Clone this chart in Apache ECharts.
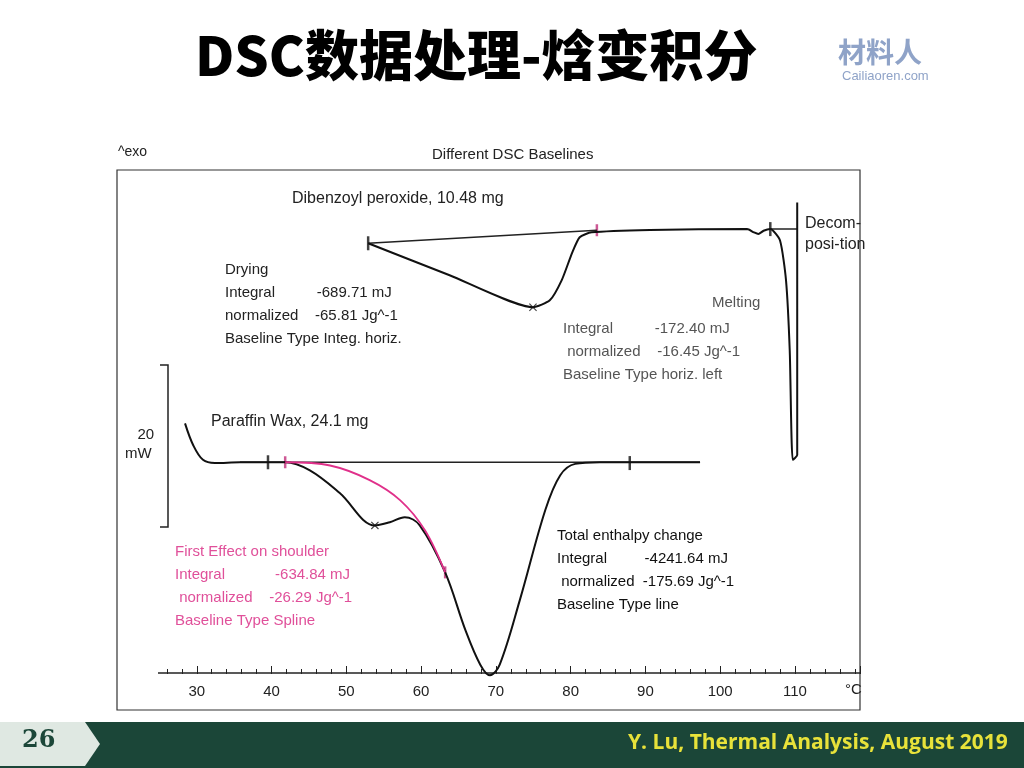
<!DOCTYPE html>
<html><head><meta charset="utf-8">
<script src="https://cdn.jsdelivr.net/npm/echarts@6/dist/echarts.min.js"></script>
<style>html,body{margin:0;padding:0;background:#fff}#c{width:1024px;height:768px}</style>
</head><body><div id="c"></div>
<script>
// x in °C, y in mW (arbitrary offset)
const peroxideCurve = [[52.9,57.65],[63.8,53.7],[74.95,49.75],[77.2,50.6],[78.8,53.1],[80.2,56.5],[81.2,58.4],[82.8,59.0],[90.6,59.3],[103.6,59.4],[104.5,59.0],[105.1,58.8],[105.8,59.2],[106.7,59.4],[108.0,58.0],[108.8,53.1],[109.3,44.4],[109.7,30.9],[110.3,31.5],[110.3,62.7]];
const peroxideBaseline = [[52.9,57.65],[83.5,59.26]];
const peroxideBaseline2 = [[106.7,59.4],[110.3,59.4]];
const paraffinCurve = [[28.4,35.4],[29.5,32.7],[30.8,30.9],[32.4,30.5],[35.75,30.6],[41.8,30.6],[45.1,29.6],[49.1,26.8],[53.8,22.8],[55.8,23.2],[57.8,23.8],[59.8,22.8],[63.2,17.0],[65.9,9.9],[67.9,5.6],[69.2,4.3],[70.5,5.6],[73.2,13.6],[76.6,24.7],[78.6,29.0],[80.6,30.4],[83.9,30.6],[97.3,30.6]];
const paraffinBaseline = [[35.75,30.6],[97.3,30.6]];
const shoulderSpline = [[41.8,30.6],[47.8,30.2],[53.1,28.4],[57.2,25.9],[60.5,22.2],[63.2,17.0]];
const limitTicks = [[39.5,30.6],[52.9,57.65],[106.7,59.4],[87.9,30.5]];
const pinkTicks = [[41.8,30.6],[83.5,59.26],[63.2,17.0]];
const crossMarks = [[74.95,49.75],[53.8,22.8]];
const xTickLabels = [30,40,50,60,70,80,90,100,110];

const chart = echarts.init(document.getElementById('c'));
const T = (x,y,text,style)=>({type:'text',left:x,top:y,style:Object.assign({text:text,fill:'#222',font:'15px Arial, "Liberation Sans"'},style||{})});
const lineS = (data,color,w,sm)=>({type:'line',data:data,showSymbol:false,smooth:sm===undefined?0.35:sm,lineStyle:{color:color,width:w||1.8},silent:true});
chart.setOption({
  animation:false,
  grid:[{left:117,right:164,top:170,bottom:58,show:true,borderColor:'#333',borderWidth:1.2},
        {left:122,right:164,top:673,height:1}],
  xAxis:[{gridIndex:0,type:'value',min:19.3,max:118.7,show:false},
         {gridIndex:1,type:'value',min:20,max:118.7,interval:10,
          axisLine:{show:false},
          axisTick:{show:true,inside:true,length:8,lineStyle:{color:'#222'}},
          minorTick:{show:true,splitNumber:5,length:5,lineStyle:{color:'#222'}},
          splitLine:{show:false},
          axisLabel:{show:true,color:'#222',fontSize:15,margin:10,formatter:v=>xTickLabels.indexOf(v)>=0?String(v):''}}],
  yAxis:[{gridIndex:0,type:'value',min:0,max:66.7,show:false},
         {gridIndex:1,type:'value',min:0,max:1,show:false}],
  series:[
    lineS(peroxideBaseline,'#222',1.5,false),
    lineS(peroxideBaseline2,'#222',1.5,false),
    lineS(peroxideCurve,'#111',2,0.2),
    lineS(paraffinBaseline,'#222',1.5,false),
    lineS(paraffinCurve,'#111',2),
    lineS(shoulderSpline,'#e0308a',1.8),
    {type:'scatter',data:limitTicks,symbol:'rect',symbolSize:[2.5,14],itemStyle:{color:'#111'},silent:true},
    {type:'scatter',data:pinkTicks,symbol:'rect',symbolSize:[2.5,12],itemStyle:{color:'#c0307a'},silent:true},
    {type:'scatter',data:crossMarks,symbol:'path://M0,1L1,0L5,4L9,0L10,1L6,5L10,9L9,10L5,6L1,10L0,9L4,5Z',symbolSize:8,itemStyle:{color:'#111'},silent:true}
  ],
  graphic:[
    {type:'line',shape:{x1:158,y1:673,x2:860,y2:673},style:{stroke:'#222',lineWidth:1.5}},
    {type:'rect',shape:{x:118,y:660,width:39,height:14},style:{fill:'#fff'},z:100},
    T(195,28,'DSC数据处理-焓变积分',{font:'900 54px "Noto Sans CJK SC"',fill:'#000'}),
    T(838,38,'材料人',{font:'bold 28px "Noto Sans CJK SC"',fill:'#8fa3c8'}),
    T(842,70,'Cailiaoren.com',{font:'13px Arial',fill:'#8fa3c8'}),
    {type:'rect',shape:{x:0,y:722,width:1024,height:46},style:{fill:'#1b4638'}},
    {type:'polygon',shape:{points:[[0,722],[85,722],[100,744],[85,766],[0,766]]},style:{fill:'#dfe8e2'}},
    T(22,729,'26',{font:'bold 24px "DejaVu Serif"',fill:'#1b4638'}),
    T(628,733,'Y. Lu, Thermal Analysis, August 2019',{font:'bold 21px "Open Sans"',fill:'#e8e23a'}),
    T(118,145,'^exo',{font:'14px Arial'}),
    T(432,147,'Different DSC Baselines',{font:'15px Arial'}),
    T(292,191,'Dibenzoyl peroxide, 10.48 mg',{font:'16px Arial'}),
    T(805,213,'Decom-\nposi-tion',{font:'16px Arial',lineHeight:21}),
    T(225,258,'Drying\nIntegral          -689.71 mJ\nnormalized    -65.81 Jg^-1\nBaseline Type Integ. horiz.',{font:'15px Arial',lineHeight:23}),
    T(712,295,'Melting',{font:'15px Arial',fill:'#555'}),
    T(563,317,'Integral          -172.40 mJ\n normalized    -16.45 Jg^-1\nBaseline Type horiz. left',{font:'15px Arial',fill:'#555',lineHeight:23}),
    T(211,414,'Paraffin Wax, 24.1 mg',{font:'16px Arial'}),
    T(125,425,'   20\nmW',{font:'15px Arial',lineHeight:19}),
    {type:'polyline',shape:{points:[[160,365],[168,365],[168,527],[160,527]]},style:{stroke:'#222',lineWidth:1.5,fill:null}},
    T(175,540,'First Effect on shoulder\nIntegral            -634.84 mJ\n normalized    -26.29 Jg^-1\nBaseline Type Spline',{font:'15px Arial',fill:'#e0509a',lineHeight:23}),
    T(557,524,'Total enthalpy change\nIntegral         -4241.64 mJ\n normalized  -175.69 Jg^-1\nBaseline Type line',{font:'15px Arial',fill:'#111',lineHeight:23}),
    T(845,682,'°C',{font:'15px Arial'})
  ]
});
</script></body></html>
